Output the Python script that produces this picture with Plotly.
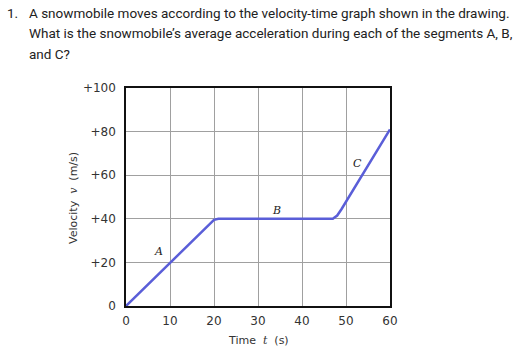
import plotly.graph_objects as go

# data
time_s = [0, 20, 21, 47, 48, 49, 60]
velocity = [0, 39.5, 40, 40, 41.5, 44.5, 81]
seg_labels = ["A", "B", "C"]
seg_t = [7.3, 34.3, 52.5]
seg_v = [25, 44, 65.5]
x_ticks = [0, 10, 20, 30, 40, 50, 60]
x_ticklabels = ["0", "10", "20", "30", "40", "50", "60"]
y_ticks = [0, 20, 40, 60, 80, 100]
y_ticklabels = ["0", "+20", "+40", "+60", "+80", "+100"]

W, H = 528, 351
L, R, T, B = 126, 390, 88, 306

def px(xp):
    return (xp - L) / (R - L)

def py(yp):
    return (B - yp) / (B - T)

fig = go.Figure()
fig.add_trace(go.Scatter(x=time_s, y=velocity, mode="lines",
                         line=dict(color="#5a5ed8", width=2.5, shape="linear"),
                         hoverinfo="skip", showlegend=False))

for lab, t, v in zip(seg_labels, seg_t, seg_v):
    fig.add_annotation(x=t, y=v, text=f"<i>{lab}</i>", showarrow=False,
                       font=dict(family="DejaVu Serif", size=11, color="#222"))

tick_font = dict(family="DejaVu Sans", size=12, color="#333")
fig.update_xaxes(range=[0, 60], tickvals=x_ticks, ticktext=x_ticklabels,
                 showgrid=True, gridcolor="#a0a0a0", gridwidth=1,
                 showline=True, linecolor="#111", linewidth=1.5, mirror=True,
                 zeroline=False, ticks="", tickfont=tick_font, fixedrange=True,
                 ticklabelstandoff=3)
fig.update_yaxes(range=[0, 100], tickvals=y_ticks, ticktext=y_ticklabels,
                 showgrid=True, gridcolor="#a0a0a0", gridwidth=1,
                 showline=True, linecolor="#111", linewidth=1.5, mirror=True,
                 zeroline=False, ticks="", tickfont=tick_font, fixedrange=True,
                 ticklabelstandoff=6)

q_font = dict(family="Roboto", size=13.5, color="#222")
lines = [
    (5, 13, "1."),
    (27, 13, "A snowmobile moves according to the velocity-time graph shown in the drawing."),
    (27, 33, "What is the snowmobile’s average acceleration during each of the segments A, B,"),
    (27, 54, "and C?"),
]
for x0, y0, txt in lines:
    fig.add_annotation(xref="paper", yref="paper", x=px(x0), y=py(y0), text=txt,
                       xanchor="left", yanchor="middle", showarrow=False,
                       font=q_font)

ax_font = dict(family="DejaVu Sans", size=11, color="#333")
fig.add_annotation(xref="paper", yref="paper", x=px(258), y=py(340),
                   text="Time  <i><span style='font-family:DejaVu Serif'>t</span></i>  (s)",
                   showarrow=False, xanchor="center", yanchor="middle", font=ax_font)
fig.add_annotation(xref="paper", yref="paper", x=px(73), y=py(198),
                   text="Velocity  <i><span style='font-family:DejaVu Serif'>v</span></i>  (m/s)",
                   showarrow=False, textangle=-90, xanchor="center", yanchor="middle",
                   font=ax_font)

fig.update_layout(width=W, height=H, margin=dict(l=L, r=W - R, t=T, b=H - B),
                  paper_bgcolor="white", plot_bgcolor="white", showlegend=False)

fig.write_html("out.html")
